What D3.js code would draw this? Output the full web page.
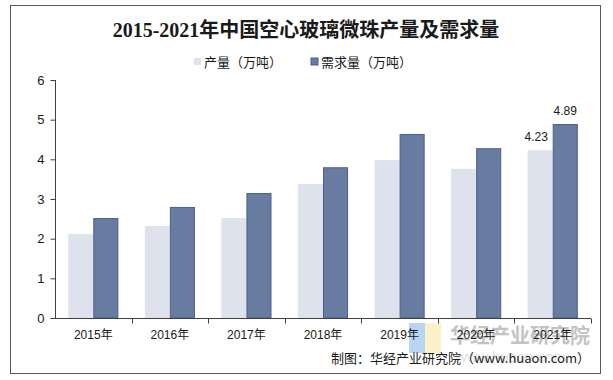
<!DOCTYPE html>
<html><head><meta charset="utf-8">
<script src="https://cdn.jsdelivr.net/npm/d3@7"></script>
<style>html,body{margin:0;padding:0;background:#fff;}svg{display:block;}</style>
</head><body>
<svg id="c" width="613" height="380"></svg>
<script>
const years = ["2015年","2016年","2017年","2018年","2019年","2020年","2021年"];
const seriesNames = ["产量（万吨）","需求量（万吨）"];
const production = [2.12, 2.32, 2.52, 3.38, 3.98, 3.76, 4.23];
const demand = [2.52, 2.80, 3.15, 3.80, 4.64, 4.28, 4.89];
const yTicks = [0,1,2,3,4,5,6];
const titleText = "2015-2021年中国空心玻璃微珠产量及需求量";
const sourceText = "制图：华经产业研究院（www.huaon.com）";
const watermarkText = "华经产业研究院";
const watermarkUrl = "www.huaon.com";

const colors = ["#dde2ec", "#687ba0"];
const strokes = [null, "#4b5f8e"];
const svg = d3.select("#c");
const font = "Arial, 'Liberation Sans', 'Noto Sans CJK SC', sans-serif";

// frame
svg.append("rect").attr("x",10.5).attr("y",5.5).attr("width",590).attr("height",368)
  .attr("fill","#fff").attr("stroke","#595959").attr("stroke-width",1);

// title
svg.append("text").attr("x",306).attr("y",37).attr("text-anchor","middle")
  .attr("font-family","'Liberation Serif','DejaVu Serif','Noto Sans CJK SC',serif")
  .attr("font-size",20).attr("font-weight","bold").attr("fill","#1a1a1a").text(titleText);

const x0 = d3.scaleBand().domain(years).range([55, 591]).padding(0);
const groupW = x0.bandwidth() * 0.655;
const x1 = d3.scaleBand().domain([0,1]).range([0, groupW]).padding(0);
const y = d3.scaleLinear().domain([0,6]).range([318, 80]);

// watermark
const wm = svg.append("g");
wm.append("rect").attr("x",409).attr("y",323).attr("width",16).attr("height",30).attr("fill","#a9c9f2").attr("opacity",0.8);
wm.append("rect").attr("x",425).attr("y",323).attr("width",16).attr("height",30).attr("fill","#faf0c0").attr("opacity",0.9);
wm.append("text").attr("x",450).attr("y",343).attr("font-family","'Noto Sans CJK SC',sans-serif")
  .attr("font-size",20).attr("font-weight","bold").attr("fill","#b5b5b5").attr("opacity",0.8).text(watermarkText);
wm.append("text").attr("x",456).attr("y",362).attr("font-family",font)
  .attr("font-size",15).attr("fill","#e2e2e2").text(watermarkUrl);

// bars
const data = [production, demand];
data.forEach((vals, si) => {
  svg.append("g").selectAll("rect").data(vals).join("rect")
    .attr("x", (d,i) => x0(years[i]) + (x0.bandwidth()-groupW)/2 + x1(si) + (si?0.5:0))
    .attr("y", d => y(d) + (si?0.5:0))
    .attr("width", x1.bandwidth() - (si?1:0))
    .attr("height", d => y(0) - y(d) - (si?0.5:0))
    .attr("fill", colors[si])
    .attr("stroke", strokes[si] || "none").attr("stroke-width", 1);
});

// data labels for last year
const li = years.length - 1;
[production[li], demand[li]].forEach((v, si) => {
  svg.append("text")
    .attr("x", x0(years[li]) + (x0.bandwidth()-groupW)/2 + x1(si) + x1.bandwidth()/2 + (si?0:-4))
    .attr("y", y(v) - 9).attr("text-anchor","middle")
    .attr("font-family",font).attr("font-size",12).attr("fill","#1a1a1a").text(v.toFixed(2));
});

// y axis
const yAxis = svg.append("g").attr("transform","translate(55.5,0)")
  .call(d3.axisLeft(y).tickValues(yTicks).tickSize(5).tickPadding(6).tickFormat(d3.format("d")));
yAxis.selectAll("text").attr("font-family",font).attr("font-size",13).attr("fill","#1a1a1a");
yAxis.selectAll("line,path").attr("stroke","#404040");
yAxis.select("path").attr("d","M0,80V318.5");

// x axis
const xAxis = svg.append("g").attr("transform","translate(0,318.5)")
  .call(d3.axisBottom(x0).tickSize(0).tickPadding(12));
xAxis.select("path").attr("stroke","#404040").attr("d","M55,0H591");
xAxis.selectAll("text").attr("font-family",font).attr("font-size",12).attr("fill","#1a1a1a");
const bounds = years.map(d => x0(d)).concat([x0(years[li]) + x0.bandwidth()]);
svg.append("g").selectAll("line").data(bounds.slice(1)).join("line")
  .attr("x1", d => Math.round(d)+0.5).attr("x2", d => Math.round(d)+0.5)
  .attr("y1", 318.5).attr("y2", 323.5).attr("stroke","#404040");

// legend
const lg = svg.append("g");
const legX = [194, 311];
seriesNames.forEach((n, i) => {
  lg.append("rect").attr("x",legX[i]).attr("y",58).attr("width",7).attr("height",7)
    .attr("fill",colors[i]).attr("stroke", strokes[i] || "none");
  lg.append("text").attr("x",legX[i]+10).attr("y",67).attr("font-family","'Noto Sans CJK SC',sans-serif")
    .attr("font-size",13).attr("fill","#1a1a1a").text(n);
});

// source
svg.append("text").attr("x",590).attr("y",363).attr("text-anchor","end")
  .attr("font-family","'Noto Sans CJK SC',sans-serif").attr("font-size",13).attr("fill","#1a1a1a").text(sourceText);
</script>
</body></html>
